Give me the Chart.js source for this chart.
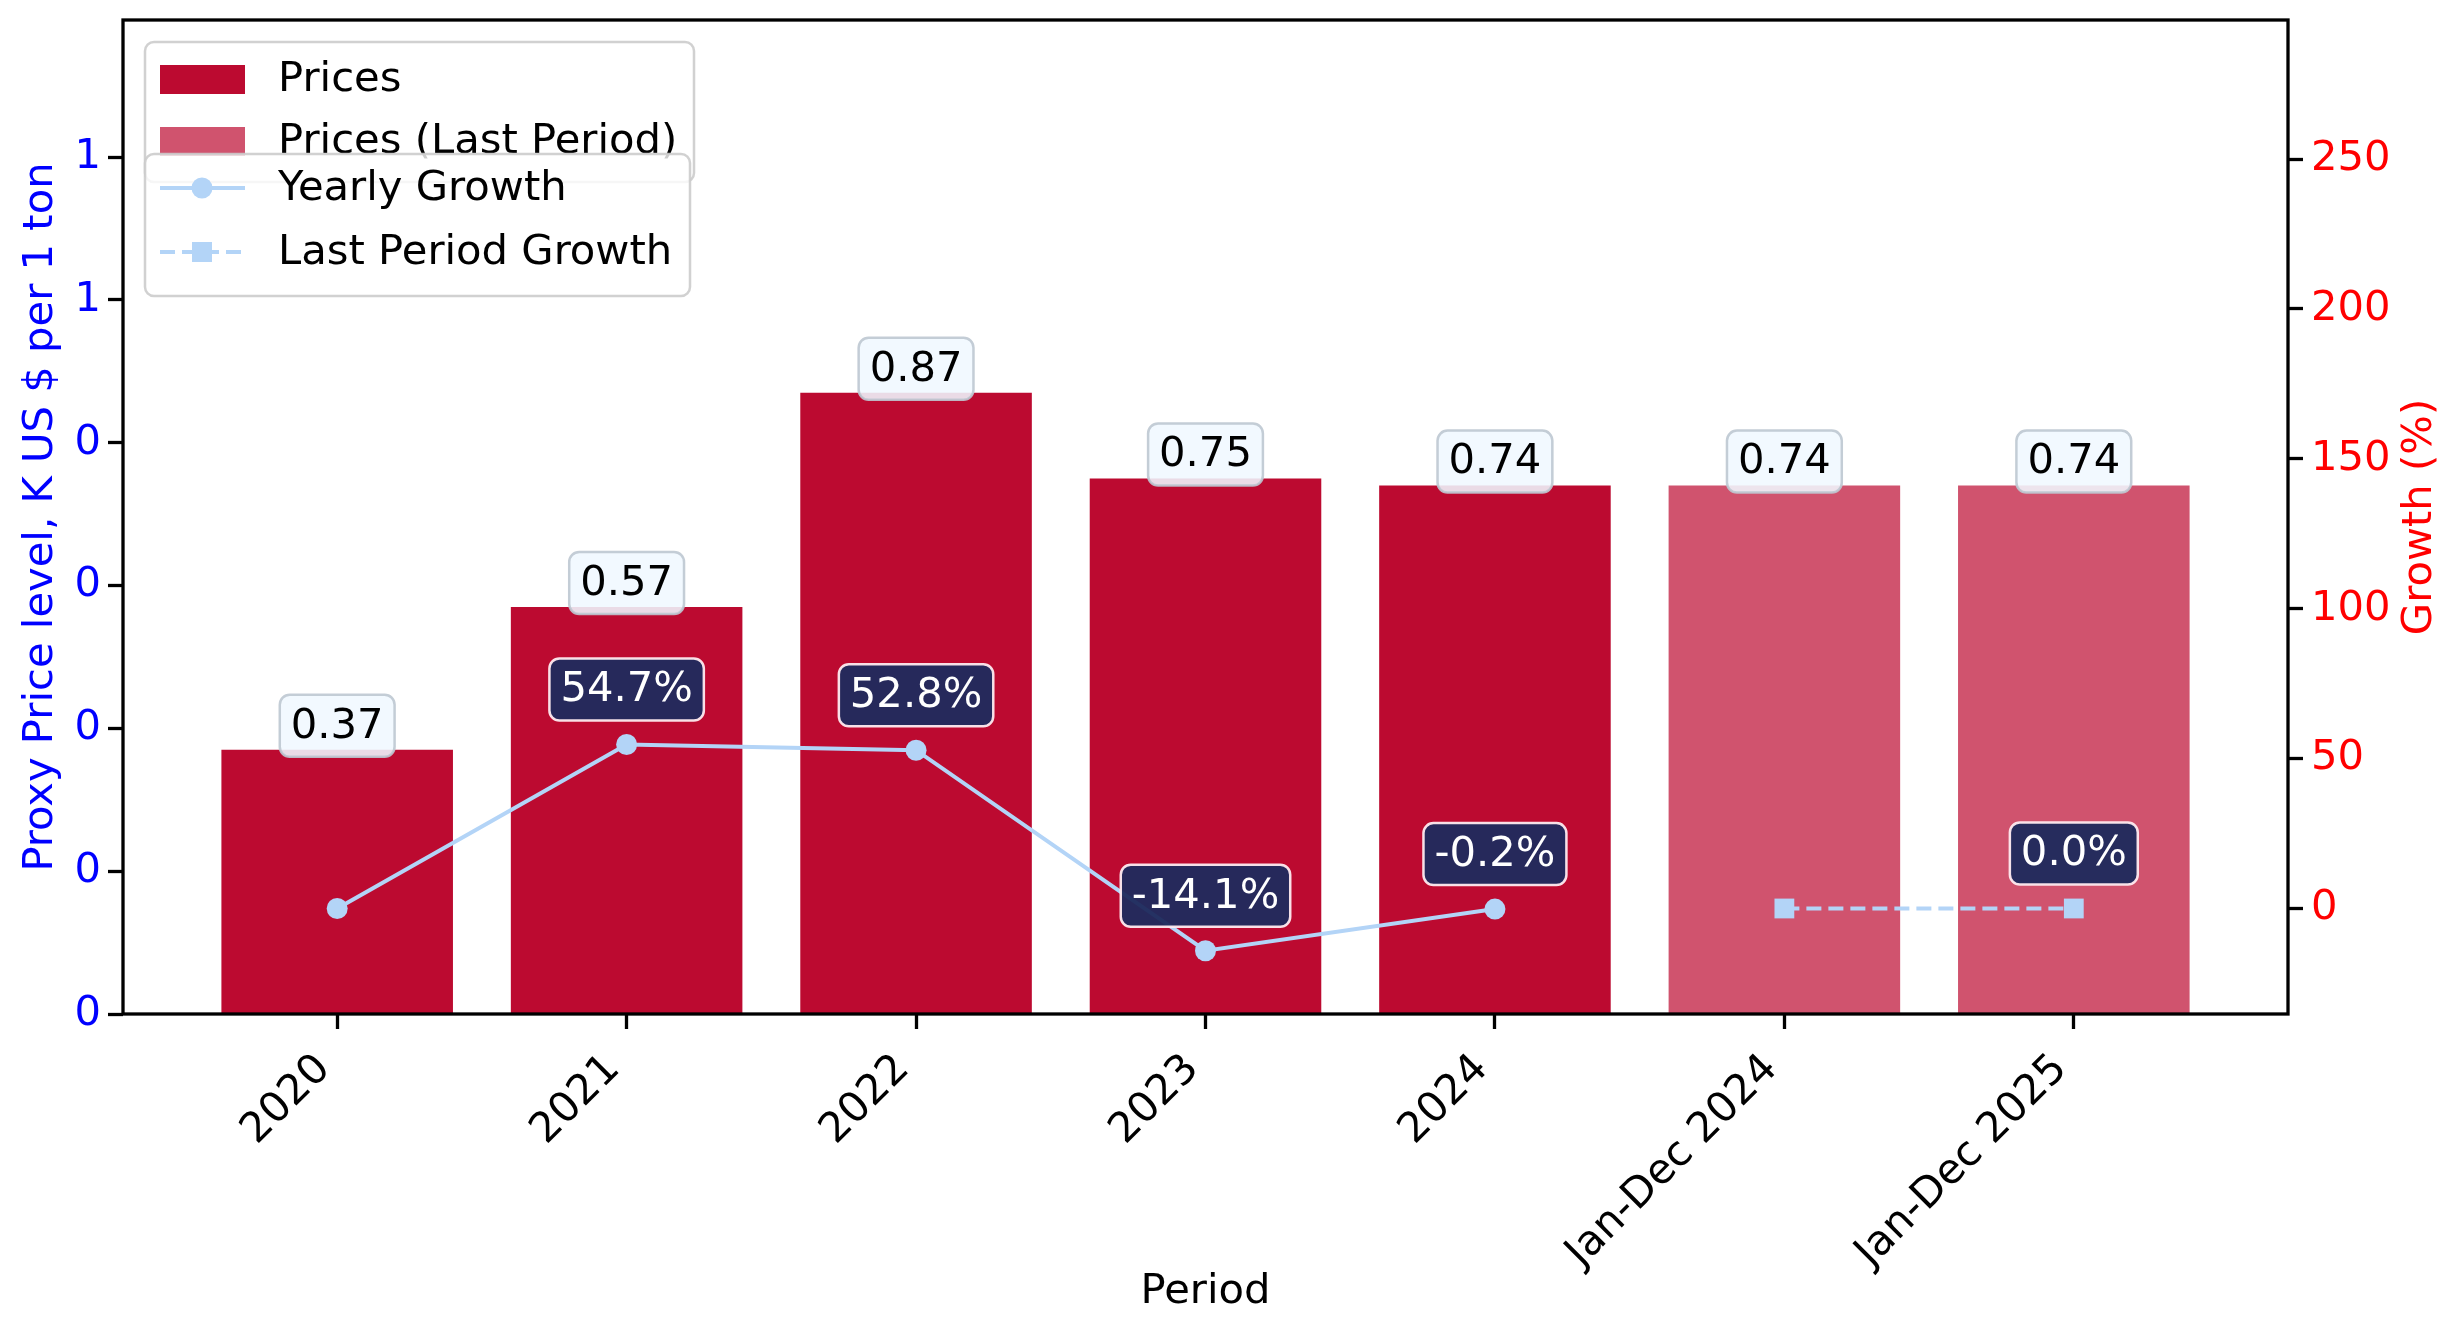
<!DOCTYPE html>
<html>
<head>
<meta charset="utf-8">
<script src="https://cdn.jsdelivr.net/npm/chart.js@4"></script>
<style>
  html, body { margin: 0; padding: 0; background: #fff; }
</style>
</head>
<body>
<canvas id="chart" width="2464" height="1338"></canvas>
<script>
// data
const categories = ["2020", "2021", "2022", "2023", "2024", "Jan-Dec 2024", "Jan-Dec 2025"];
const prices = [0.37, 0.57, 0.87, 0.75, 0.74];          // 2020..2024
const lastPeriodPrices = [0.74, 0.74];                   // Jan-Dec 2024, Jan-Dec 2025
const yearlyGrowth = [0, 54.7, 52.8, -14.1, -0.2];       // %
const lastPeriodGrowth = [0.0, 0.0];                     // %
const leftTicks = [0, 0.2, 0.4, 0.6, 0.8, 1.0, 1.2];
const leftTickLabels = ["0", "0", "0", "0", "0", "1", "1"];
const rightTicks = [0, 50, 100, 150, 200, 250];

const FONT = "DejaVu Sans";
const FS = 41.7;
const barRed = "#BC0A30";
const barPink = "#D0536E";
const growthBlue = "#B3D4F7";

const nYears = prices.length;
const priceData = prices.map((v, i) => ({ x: i, y: v }));
const lastPriceData = lastPeriodPrices.map((v, i) => ({ x: nYears + i, y: v }));
const growthData = yearlyGrowth.map((v, i) => ({ x: i, y: v }));
const lastGrowthData = lastPeriodGrowth.map((v, i) => ({ x: nYears + i, y: v }));

function box(ctx, cx, cy, text, fill, stroke, color) {
  ctx.font = FS + "px " + FONT;
  const w = ctx.measureText(text).width + 22;
  const h = 62;
  ctx.beginPath();
  ctx.roundRect(cx - w / 2, cy - h / 2, w, h, 10);
  ctx.fillStyle = fill;
  ctx.fill();
  ctx.lineWidth = 2.5;
  ctx.strokeStyle = stroke;
  ctx.stroke();
  ctx.fillStyle = color;
  ctx.textAlign = "center";
  ctx.textBaseline = "middle";
  ctx.fillText(text, cx, cy + 1);
}

function legendFrame(ctx, x, y, w, h) {
  ctx.beginPath();
  ctx.roundRect(x, y, w, h, 9);
  ctx.fillStyle = "rgba(255,255,255,0.8)";
  ctx.fill();
  ctx.lineWidth = 2.5;
  ctx.strokeStyle = "rgba(204,204,204,0.9)";
  ctx.stroke();
}

const overlay = {
  id: "overlay",
  afterDatasetsDraw(chart) {
    const { ctx, chartArea: a } = chart;
    ctx.save();
    // frame
    ctx.strokeStyle = "#000";
    ctx.lineWidth = 3.3;
    ctx.strokeRect(a.left, a.top, a.right - a.left, a.bottom - a.top);

    // bar value labels
    [0, 1].forEach(di => {
      const vals = di === 0 ? prices : lastPeriodPrices;
      chart.getDatasetMeta(di).data.forEach((el, i) => {
        box(ctx, el.x, el.y - 24, vals[i].toFixed(2),
          "rgba(240,248,255,0.88)", "rgba(190,200,210,0.9)", "#000");
      });
    });
    // growth labels (first point of each series is not labelled)
    [2, 3].forEach(di => {
      const vals = di === 2 ? yearlyGrowth : lastPeriodGrowth;
      chart.getDatasetMeta(di).data.forEach((el, i) => {
        if (i === 0) return;
        box(ctx, el.x, el.y - 55, vals[i].toFixed(1) + "%",
          "rgba(31,43,93,0.96)", "rgba(255,235,240,0.95)", "#fff");
      });
    });

    // right axis title, reads bottom to top
    ctx.translate(2420, (a.top + a.bottom) / 2);
    ctx.rotate(-Math.PI / 2);
    ctx.fillStyle = "#FF0000";
    ctx.font = FS + "px " + FONT;
    ctx.textAlign = "center";
    ctx.textBaseline = "middle";
    ctx.fillText("Growth (%)", 0, 0);
    ctx.restore();
  },
  afterDraw(chart) {
    const ctx = chart.ctx;
    ctx.save();
    ctx.font = FS + "px " + FONT;
    ctx.textBaseline = "middle";
    ctx.textAlign = "left";

    // legend 1: bars
    legendFrame(ctx, 145, 42, 549, 140);
    ctx.fillStyle = barRed;
    ctx.fillRect(160, 79 - 14, 85, 29);
    ctx.fillStyle = barPink;
    ctx.fillRect(160, 141 - 14, 85, 29);
    ctx.fillStyle = "#000";
    ctx.fillText("Prices", 278, 80);
    ctx.fillText("Prices (Last Period)", 278, 142);

    // legend 2: growth lines (drawn over legend 1)
    legendFrame(ctx, 145, 154, 545, 142);
    ctx.strokeStyle = growthBlue;
    ctx.fillStyle = growthBlue;
    ctx.lineWidth = 4;
    ctx.beginPath();
    ctx.moveTo(160, 188); ctx.lineTo(245, 188);
    ctx.stroke();
    ctx.beginPath();
    ctx.arc(202, 188, 10.5, 0, Math.PI * 2);
    ctx.fill();
    ctx.setLineDash([15, 7]);
    ctx.beginPath();
    ctx.moveTo(160, 252); ctx.lineTo(245, 252);
    ctx.stroke();
    ctx.setLineDash([]);
    ctx.fillRect(202 - 10, 252 - 10, 20, 20);
    ctx.fillStyle = "#000";
    ctx.fillText("Yearly Growth", 278, 189);
    ctx.fillText("Last Period Growth", 278, 253);
    ctx.restore();
  }
};

const tickFont = { family: FONT, size: FS };

new Chart(document.getElementById("chart"), {
  type: "bar",
  data: {
    datasets: [
      {
        type: "bar", label: "Prices", data: priceData, yAxisID: "y",
        backgroundColor: barRed, barPercentage: 0.8, categoryPercentage: 1.0,
        grouped: false, order: 2
      },
      {
        type: "bar", label: "Prices (Last Period)", data: lastPriceData, yAxisID: "y",
        backgroundColor: barPink, barPercentage: 0.8, categoryPercentage: 1.0,
        grouped: false, order: 2
      },
      {
        type: "line", label: "Yearly Growth", data: growthData, yAxisID: "y1",
        borderColor: growthBlue, backgroundColor: growthBlue, borderWidth: 4,
        pointRadius: 10.5, pointStyle: "circle", pointBorderWidth: 0, tension: 0, order: 1
      },
      {
        type: "line", label: "Last Period Growth", data: lastGrowthData, yAxisID: "y1",
        borderColor: growthBlue, backgroundColor: growthBlue, borderWidth: 4,
        borderDash: [15, 7], pointRadius: 14, pointStyle: "rect",
        pointBorderWidth: 0, tension: 0, order: 1
      }
    ]
  },
  options: {
    responsive: false,
    animation: false,
    devicePixelRatio: 1,
    layout: { padding: { top: 20, left: 0, right: 0, bottom: 0 } },
    plugins: { legend: { display: false }, tooltip: { enabled: false } },
    scales: {
      x: {
        type: "linear",
        min: -0.74,
        max: 6.74,
        offset: false,
        afterBuildTicks: s => { s.ticks = categories.map((c, i) => ({ value: i })); },
        afterFit: s => { s.height = 324; s.paddingLeft = 0; s.paddingRight = 0; },
        ticks: {
          callback: v => categories[v],
          font: tickFont, color: "#000",
          minRotation: 45, maxRotation: 45, padding: 16, labelOffset: -13, autoSkip: false
        },
        grid: { display: true, drawOnChartArea: false, offset: false, tickLength: 15, tickWidth: 3.3, tickColor: "#000" },
        border: { display: false },
        title: { display: true, text: "Period", font: tickFont, color: "#000", padding: { top: 4, bottom: 21 } }
      },
      y: {
        type: "linear",
        position: "left",
        min: 0,
        max: 1.392,
        afterBuildTicks: s => { s.ticks = leftTicks.map(v => ({ value: v })); },
        afterFit: s => { s.width = 123; s.paddingTop = 0; s.paddingBottom = 0; },
        ticks: {
          callback: (v, i) => leftTickLabels[i],
          font: tickFont, color: "#0000FF", padding: 7
        },
        grid: { display: true, drawOnChartArea: false, tickLength: 15, tickWidth: 3.3, tickColor: "#000" },
        border: { display: false },
        title: { display: true, text: "Proxy Price level, K US $ per 1 ton", font: tickFont, color: "#0000FF", padding: { top: 16, bottom: 0 } }
      },
      y1: {
        type: "linear",
        position: "right",
        min: -35.2,
        max: 296.4,
        afterBuildTicks: s => { s.ticks = rightTicks.map(v => ({ value: v })); },
        afterFit: s => { s.width = 176; s.paddingTop = 0; s.paddingBottom = 0; },
        ticks: { font: tickFont, color: "#FF0000", padding: 8 },
        grid: { display: true, drawOnChartArea: false, tickLength: 15, tickWidth: 3.3, tickColor: "#000" },
        border: { display: false }
      }
    }
  },
  plugins: [overlay]
});
</script>
</body>
</html>
